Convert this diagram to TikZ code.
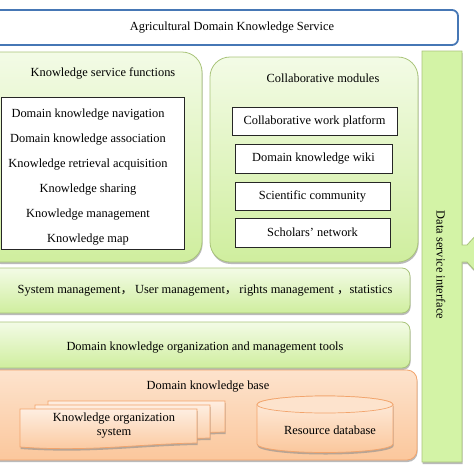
\documentclass[tikz,border=0pt]{standalone}
\usepackage{fontspec}
\setmainfont{Liberation Serif}
\newfontfamily\cjk{Noto Sans CJK SC}
\usetikzlibrary{shadows}

\definecolor{leafline}{HTML}{A9C47A}
\definecolor{leaftop}{HTML}{F3FBE6}
\definecolor{leafbot}{HTML}{CFEE9E}
\definecolor{pipefill}{HTML}{D3F3A6}
\definecolor{peachline}{HTML}{F2A46C}
\definecolor{peachtop}{HTML}{FDE3CD}
\definecolor{peachbot}{HTML}{FBC79C}
\definecolor{skyline}{HTML}{4677B5}

\tikzset{
  softshadow/.style={drop shadow={shadow xshift=0.6pt,shadow yshift=-2pt,fill=black!45,opacity=0.6}},
  greenpanel/.style={draw=leafline,line width=0.8pt,top color=leaftop,bottom color=leafbot,rounded corners=20pt,softshadow},
  greenband/.style={draw=leafline,line width=0.8pt,top color=leaftop,bottom color=leafbot,rounded corners=8pt,softshadow},
  peachpanel/.style={draw=peachline,line width=0.8pt,top color=peachtop,bottom color=peachbot,rounded corners=10pt,softshadow},
  docsheet/.style={draw=peachline,line width=0.7pt,top color=peachtop!60,bottom color=peachbot,softshadow},
  whitebox/.style={draw=black!85,fill=white,line width=0.7pt,inner sep=0pt},
  label/.style={font=\fontsize{12.4}{14}\selectfont,inner sep=0pt,align=center}
}

\begin{document}
\begin{tikzpicture}[x=1pt,y=-1pt]
  \useasboundingbox (0,0) rectangle (474,474);
  \clip (0,0) rectangle (474,474);

  % service title
  \draw[skyline,line width=1.8pt,fill=white,rounded corners=6pt] (-20,10) rectangle (458,45);
  \node[label] (title) at (232,28) {Agricultural Domain Knowledge Service};

  % knowledge service functions
  \draw[greenpanel] (-20,52) rectangle (202,262);
  \node[label] (ksf) at (103,73) {Knowledge service functions};
  \node[whitebox,minimum width=183,minimum height=152] (ksfbox) at (92.5,173) {};
  \node[label,font=\fontsize{12.4}{25}\selectfont] (ksflist) at (88,177)
    {Domain knowledge navigation\\Domain knowledge association\\
     Knowledge retrieval acquisition\\Knowledge sharing\\
     Knowledge management\\Knowledge map};

  % collaborative modules
  \node[greenpanel,minimum width=208,minimum height=205] (cm) at (314,159.5) {};
  \node[label] (cmtitle) at (323,78) {Collaborative modules};
  \node[whitebox,label,minimum width=165,minimum height=28] (cwp) at (314.5,121) {Collaborative work platform};
  \node[whitebox,label,minimum width=157,minimum height=29] (wiki) at (313.5,158.5) {Domain knowledge wiki};
  \node[whitebox,label,minimum width=155,minimum height=28] (sci) at (312.5,196) {Scientific community};
  \node[whitebox,label,minimum width=155,minimum height=29] (scholars) at (312.5,232.5) {Scholars' network};

  % management bands
  \draw[greenband] (-20,268) rectangle (410,313);
  \node[label] (sysmgmt) at (205,291)
    {System management{\cjk ，}\,User management{\cjk ，}\,rights management {\cjk ，}statistics};
  \draw[greenband] (-20,322) rectangle (410,368);
  \node[label] (orgtools) at (205,348) {Domain knowledge organization and management tools};

  % knowledge base
  \draw[peachpanel] (-20,370) rectangle (417,460);
  \node[label] (kbase) at (208,387) {Domain knowledge base};
  \foreach \xa/\ya/\xb/\yb in {48/401/225/432, 35/405/210/438, 20/409/197/443}
    \draw[docsheet] (\xa,\ya) -- (\xb,\ya) -- (\xb,\yb)
      .. controls (\xb-60,\yb+1) and (\xa+70,\yb+9) .. (\xa,\yb+4) -- cycle;
  \node[label] (kos) at (114,426) {Knowledge organization\\system};
  \draw[docsheet] (257,404.5) -- (257,444) arc[start angle=180,end angle=360,x radius=68pt,y radius=8.5pt]
    -- (393,404.5) arc[start angle=0,end angle=180,x radius=68pt,y radius=8.5pt];
  \draw[peachline,line width=0.7pt,fill=peachtop] (325,404.5) ellipse[x radius=68pt,y radius=8.5pt];
  \node[label] (resdb) at (330,430) {Resource database};

  % data service interface
  \draw[draw=leafline,line width=0.8pt,fill=pipefill,softshadow]
    (422,51) -- (462,51) -- (462,245) -- (467,245) -- (478,233) -- (492,253)
    -- (478,274) -- (467,262) -- (462,262) -- (462,462) -- (422,462) -- cycle;
  \node[label,rotate=-90] (dsi) at (441,265) {Data service interface};
\end{tikzpicture}
\end{document}
